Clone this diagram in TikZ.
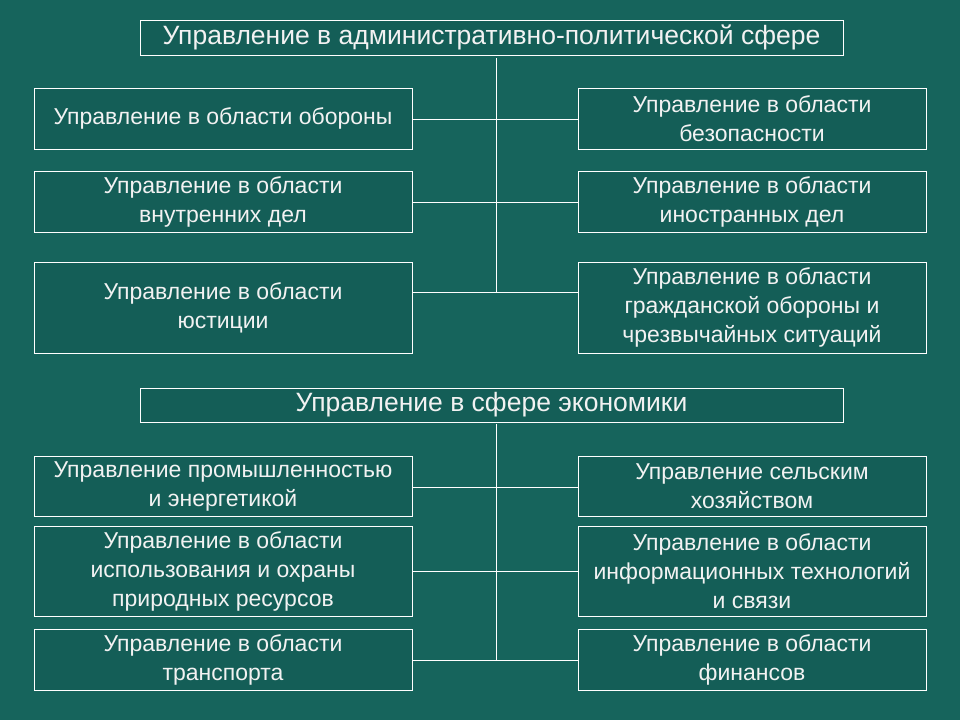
\documentclass[tikz,border=0pt]{standalone}
\usepackage{fontspec}
\setmainfont{Liberation Sans}
\definecolor{bg}{HTML}{16645C}
\definecolor{boxc}{HTML}{145E57}
\definecolor{tx}{HTML}{F2F2F2}
\begin{document}
\begin{tikzpicture}[x=1pt,y=-1pt,
  bx/.style={draw=white,line width=0.8pt,fill=boxc,text=tx,align=center,font=\fontsize{23}{29}\selectfont,inner sep=0pt},
  hd/.style={bx,font=\fontsize{26.5}{30}\selectfont},
  ln/.style={draw=white,line width=0.8pt}]
\fill[bg] (0,0) rectangle (960,720);
\useasboundingbox (0,0) rectangle (960,720);
\newcommand{\bxx}[6]{\node[bx,minimum width=#3-#1,minimum height=#4-#2] (#5) at ({(#1+#3)/2},{(#2+#4)/2}) {#6};}
\node[hd,minimum width=703,minimum height=35] (h1) at (491.5,37.5) {Управление в административно-политической сфере};
\bxx{34}{88}{412}{149}{l1}{Управление в области обороны}
\bxx{578}{88}{926}{149}{r1}{Управление в области\\безопасности}
\bxx{34}{171}{412}{232}{l2}{Управление в области\\внутренних дел}
\bxx{578}{171}{926}{232}{r2}{Управление в области\\иностранных дел}
\bxx{34}{262}{412}{353}{l3}{Управление в области\\юстиции}
\bxx{578}{262}{926}{353}{r3}{Управление в области\\гражданской обороны и\\чрезвычайных ситуаций}
\node[hd,minimum width=703,minimum height=34] (h2) at (491.5,405) {Управление в сфере экономики};
\bxx{34}{456}{412}{516}{l4}{Управление промышленностью\\и энергетикой}
\bxx{578}{456}{926}{516}{r4}{Управление сельским\\хозяйством}
\bxx{34}{526}{412}{616}{l5}{Управление в области\\использования и охраны\\природных ресурсов}
\bxx{578}{526}{926}{616}{r5}{Управление в области\\информационных технологий\\и связи}
\bxx{34}{629}{412}{690}{l6}{Управление в области\\транспорта}
\bxx{578}{629}{926}{690}{r6}{Управление в области\\финансов}
\coordinate (t1) at (496,58); \coordinate (b1) at (496,292);
\draw[ln] (t1) -- (b1);
\draw[ln] (l1.east |- 0,119) -- (r1.west |- 0,119);
\draw[ln] (l2.east |- 0,202) -- (r2.west |- 0,202);
\draw[ln] (l3.east |- 0,292) -- (r3.west |- 0,292);
\coordinate (t2) at (496,424); \coordinate (b2) at (496,660);
\draw[ln] (t2) -- (b2);
\draw[ln] (l4.east |- 0,487) -- (r4.west |- 0,487);
\draw[ln] (l5.east |- 0,571) -- (r5.west |- 0,571);
\draw[ln] (l6.east |- 0,660) -- (r6.west |- 0,660);
\end{tikzpicture}
\end{document}
